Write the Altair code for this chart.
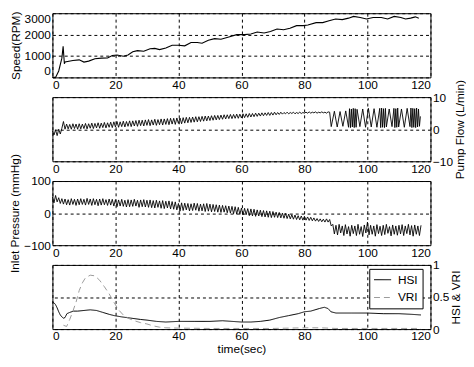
import altair as alt
import pandas as pd
import numpy as np

# ---------------- data ----------------
# Panel 1: pump speed (RPM)
speed_t = [0, 1, 2, 3, 3.4, 3.8, 4, 6.5, 8.5, 10, 11.5, 13.5, 15.5, 17.5, 19, 20.5,
           22.5, 24, 25.5, 27, 29, 31, 32.5, 34, 36, 38, 40, 42, 44, 46, 47.5, 49.5,
           51.5, 53.5, 56, 58.5, 61, 63, 65, 67.2, 69.2, 71.3, 73.4, 75.4, 77.5,
           79.6, 81.1, 83.7, 85.8, 87.8, 89.9, 92, 94, 95.6, 97.7, 99.7, 101.8,
           104.4, 106.4, 108.5, 110.6, 112.1, 113.7, 115.2, 116.3]
speed_v = [0, 0, 300, 900, 1450, 640, 715, 790, 820, 715, 760, 870, 900, 910, 1020, 1050,
           990, 1050, 1200, 1250, 1220, 1340, 1355, 1300, 1370, 1500, 1500, 1475, 1630, 1630, 1600, 1735,
           1810, 1780, 1890, 2000, 2000, 2030, 2120, 2075, 2150, 2260, 2230, 2300, 2420,
           2420, 2450, 2560, 2560, 2650, 2730, 2700, 2770, 2850, 2800, 2730, 2800,
           2800, 2730, 2850, 2800, 2730, 2770, 2830, 2770]

# Panel 2: pump flow (L/min), half-second samples 0 .. 87.5 s
flow_a = [
    -0.5, -1.8, -0.2, -2.0, 0.0, -1.5, 0.3, 2.4, 0.0, 1.6, 0.1, 1.5, 0.0, 1.7, 0.2, 1.6, 0.0, 1.7, 0.1, 1.6,
    0.2, 1.8, 0.1, 1.7, 0.3, 1.9, 0.2, 1.8, 0.4, 2.0, 0.3, 1.9, 0.5, 2.1, 0.4, 2.0, 0.6, 2.2, 0.5, 2.3,
    0.7, 2.4, 0.6, 2.3, 0.8, 2.5, 0.7, 2.4, 0.9, 2.6, 0.8, 2.6, 1.0, 2.7, 0.9, 2.8, 1.1, 2.8, 1.0, 2.9,
    1.2, 3.0, 1.1, 2.9, 1.3, 3.1, 1.2, 3.0, 1.4, 3.2, 1.3, 3.2, 1.5, 3.3, 1.4, 3.4, 1.6, 3.4, 1.5, 3.5,
    1.8, 3.5, 1.7, 3.6, 1.9, 3.7, 2.0, 3.7, 2.1, 3.8, 2.2, 3.9, 2.3, 3.9, 2.4, 4.0, 2.5, 4.1, 2.6, 4.1,
    2.7, 4.2, 2.8, 4.3, 2.9, 4.3, 3.0, 4.4, 3.1, 4.5, 3.2, 4.5, 3.3, 4.6, 3.3, 4.6, 3.4, 4.7, 3.4, 4.7,
    3.5, 4.8, 3.6, 4.8, 3.7, 4.9, 3.8, 4.9, 3.9, 5.0, 4.0, 5.0, 4.1, 5.1, 4.2, 5.1, 4.3, 5.2, 4.3, 5.2,
    4.4, 5.3, 4.5, 5.2, 4.6, 5.3, 4.7, 5.2, 4.8, 5.3, 4.8, 5.2, 4.9, 5.3, 4.8, 5.2, 4.9, 5.3, 4.9, 5.2,
    5.0, 5.3, 5.0, 5.4, 5.0, 5.3, 5.1, 5.4, 5.0, 5.3, 5.1, 5.4, 5.1, 5.3, 5.0, 5.4,
]
# Panel 2, large oscillations after 88 s
flow_b_t = [88, 88.5, 89.5, 90.4, 91.3, 92.2, 93.1, 94, 94.3, 94.6,
            94.9, 95.2, 95.5, 95.8, 96.1, 96.4, 96.7, 97.6, 98.5, 99.4,
            100.3, 101.2, 102.1, 103, 103.9, 104.2, 104.5, 104.8, 105.1, 105.4,
            105.7, 106, 106.9, 107.8, 108.4, 108.7, 109, 109.3, 109.6, 109.9,
            110.8, 111.7, 112.6, 113.5, 113.8, 114.1, 114.4, 114.7, 115, 115.3,
            115.6, 115.9, 116.2, 116.5, 116.8]
flow_b_v = [5.3, 0.8, 5.6, 0.7, 5.5, 0.9, 5.7, 0.6, 6.4, 0.5,
            6.3, 0.7, 6.5, 0.5, 6.4, 0.6, 6.2, 0.8, 6.3, 0.6,
            6.5, 0.7, 6.4, 0.6, 6.5, 0.5, 6.6, 0.6, 6.4, 0.5,
            6.5, 0.7, 6.3, 0.8, 6.5, 0.5, 6.4, 0.6, 6.6, 0.7,
            6.3, 0.6, 6.5, 0.8, 6.6, 0.5, 6.5, 0.6, 6.4, 0.5,
            6.6, 0.7, 6.3, 0.9, 4.0]

# Panel 3: inlet pressure (mmHg), half-second samples 0 .. 117 s
pressure = [
    50, 32, 55, 35, 48, 30, 45, 28, 44, 26, 42, 25, 45, 27, 43, 24, 44, 26, 45, 27,
    43, 25, 46, 27, 44, 24, 45, 26, 43, 23, 44, 25, 45, 26, 42, 24, 44, 25, 43, 22,
    42, 20, 41, 22, 43, 21, 40, 19, 42, 20, 41, 21, 43, 22, 40, 18, 41, 20, 42, 19,
    40, 18, 41, 17, 39, 16, 40, 18, 38, 15, 39, 14, 37, 16, 38, 13, 36, 12, 35, 10,
    30, 6, 32, 8, 31, 10, 30, 7, 29, 8, 31, 9, 30, 6, 28, 7, 29, 5, 30, 6,
    28, 4, 27, 5, 26, 3, 25, 2, 24, 3, 23, 1, 22, 0, 21, -2, 20, -3, 18, -4,
    16, -6, 15, -5, 14, -8, 13, -9, 12, -10, 10, -9, 9, -11, 8, -12, 7, -13, 6, -14,
    5, -13, 3, -14, 2, -15, 0, -16, -1, -17, -3, -18, -5, -19, -6, -20, -8, -21, -9, -22,
    -10, -22, -12, -23, -13, -24, -15, -25, -17, -26, -18, -27, -19, -28, -18, -28, -20, -40, -35, -65,
    -38, -68, -35, -62, -40, -70, -36, -65, -42, -72, -38, -64, -40, -70, -35, -66, -42, -73, -37, -62,
    -28, -68, -38, -66, -40, -72, -36, -64, -41, -70, -38, -67, -35, -63, -42, -71, -37, -66, -40, -69,
    -38, -65, -36, -70, -40, -64, -35, -68, -39, -72, -37, -66, -40, -70, -38,
]

# Panel 4: HSI and VRI
hsi_t = [0, 0.5, 1, 1.5, 2, 2.5, 3, 3.5, 4, 4.6, 5.5, 6.7, 8, 10, 12, 14, 16, 18, 19.6,
         22, 25, 28, 30, 33, 36, 40, 45, 50, 54, 57, 60, 63, 66, 69, 72, 75, 78, 80,
         82, 84.7, 86.3, 87.5, 88.4, 90, 95, 100, 105, 110, 114, 117]
hsi_v = [0.42, 0.41, 0.38, 0.33, 0.27, 0.22, 0.19, 0.17, 0.18, 0.24, 0.26, 0.28, 0.28, 0.29, 0.30, 0.29, 0.26, 0.23, 0.21,
         0.19, 0.17, 0.15, 0.14, 0.12, 0.11, 0.12, 0.12, 0.12, 0.13, 0.12, 0.11, 0.11, 0.12, 0.14, 0.18, 0.21, 0.24, 0.27,
         0.28, 0.32, 0.34, 0.32, 0.27, 0.25, 0.25, 0.25, 0.24, 0.24, 0.23, 0.22]
vri_t = [3.5, 4.5, 5.5, 6.5, 7.5, 8.5, 9.5, 10.5, 12, 13.5, 15, 16.5, 18, 19.5, 21, 22.5, 24, 26,
         28, 30, 32, 34, 36, 40, 50, 60, 70, 80, 85, 90, 100, 110, 117]
vri_v = [0.06, 0.04, 0.15, 0.28, 0.42, 0.60, 0.72, 0.80, 0.84, 0.83, 0.76, 0.66, 0.55, 0.42, 0.30, 0.22, 0.17, 0.13,
         0.10, 0.08, 0.05, 0.03, 0.02, 0.015, 0.01, 0.01, 0.01, 0.02, 0.02, 0.01, 0.01, 0.01, 0.01]

x_ticks = [0, 20, 40, 60, 80, 100, 120]

# ---------------- tables ----------------
df_speed = pd.DataFrame({"t": speed_t, "v": speed_v})
flow_t = list(np.arange(len(flow_a)) * 0.5) + flow_b_t
df_flow = pd.DataFrame({"t": flow_t, "v": flow_a + flow_b_v})
df_press = pd.DataFrame({"t": np.arange(len(pressure)) * 0.5, "v": pressure})
df_idx = pd.concat([
    pd.DataFrame({"t": hsi_t, "v": hsi_v, "s": "HSI"}),
    pd.DataFrame({"t": vri_t, "v": vri_v, "s": "VRI"}),
])

W, H = 383, 65
GRID = dict(grid=True, gridColor="black", gridOpacity=1, gridDash=[3, 3], gridWidth=1,
            domain=False, ticks=False)


def xenc(title=None):
    ax = alt.Axis(values=x_ticks, labelPadding=2, labelFlush=True, titlePadding=2, **GRID)
    return alt.X("t:Q", scale=alt.Scale(domain=[0, 120], nice=False), axis=ax, title=title)


def yenc(domain, values, orient, title, fmt, flush=False):
    kw = dict(orient=orient, values=values, format=fmt, labelPadding=2, titlePadding=2,
              labelFlush=flush, **GRID)
    if orient == "right":
        kw["titleAngle"] = 270
        kw["titleBaseline"] = "top"
    return alt.Y("v:Q", scale=alt.Scale(domain=domain, nice=False), axis=alt.Axis(**kw), title=title)


p1 = alt.Chart(df_speed).mark_line(color="black", strokeWidth=1.1).encode(
    x=xenc(), y=yenc([0, 3000], [0, 1000, 2000, 3000], "left", "Speed(RPM)", "d", flush=True)
).properties(width=W, height=H)

p2 = alt.Chart(df_flow).mark_line(color="black", strokeWidth=0.9).encode(
    x=xenc(), y=yenc([-10, 10], [-10, 0, 10], "right", "Pump Flow (L/min)", "d")
).properties(width=W, height=H)

p3 = alt.Chart(df_press).mark_line(color="black", strokeWidth=0.9).encode(
    x=xenc(), y=yenc([-100, 100], [-100, 0, 100], "left", "Inlet Pressure (mmHg)", "d")
).properties(width=W, height=H)

leg = alt.Legend(title=None, orient="none", legendX=W - 62, legendY=4,
                 strokeColor="black", fillColor="white", padding=4, rowPadding=4,
                 labelFontSize=12, labelColor="black", symbolSize=300, clipHeight=14,
                 symbolStrokeWidth=1, labelOffset=6, cornerRadius=0)
p4 = alt.Chart(df_idx).mark_line(strokeWidth=1).encode(
    x=xenc("time(sec)"),
    y=yenc([0, 1], [0, 0.5, 1], "right", "HSI & VRI", "~g"),
    color=alt.Color("s:N", scale=alt.Scale(domain=["HSI", "VRI"], range=["black", "#9a9a9a"]), legend=leg),
    strokeDash=alt.StrokeDash("s:N", scale=alt.Scale(domain=["HSI", "VRI"], range=[[1, 0], [6, 4]]), legend=leg),
).properties(width=W, height=H)

chart = alt.vconcat(p1, p2, p3, p4, spacing=20, bounds="flush").resolve_legend(
    color="independent", strokeDash="independent"
).properties(
    padding=0, background="white"
).configure(font="Liberation Sans").configure_view(
    stroke="black", strokeWidth=1
).configure_axis(
    labelFontSize=12, titleFontSize=12, titleFontWeight="normal",
    labelColor="black", titleColor="black", labelFont="Liberation Sans", titleFont="Liberation Sans"
)

chart.save("out.html", embed_options={"renderer": "svg", "actions": False})
